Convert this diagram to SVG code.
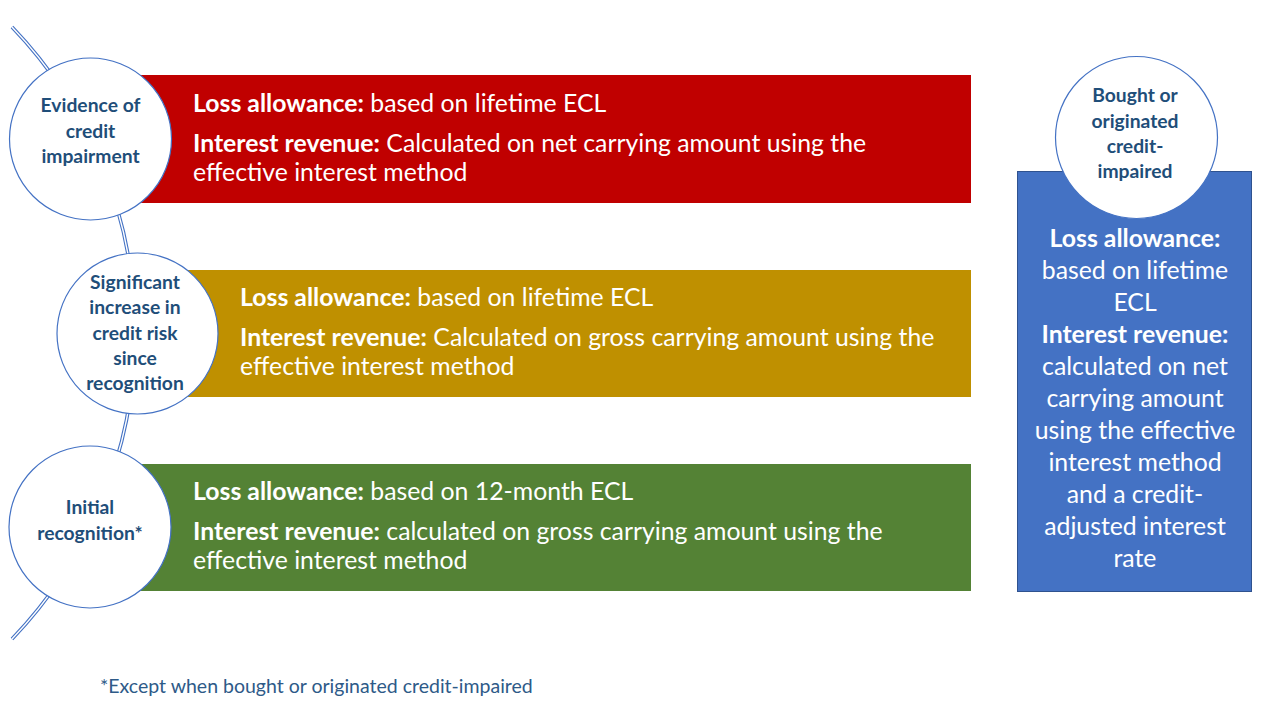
<svg xmlns="http://www.w3.org/2000/svg" width="1280" height="720" viewBox="0 0 1280 720">
<style>
.band{stroke:none}
.circ{fill:#FFFFFF;stroke:#4472C4;stroke-width:1.2}
.ct{font-family:Lato,"Liberation Sans",sans-serif;font-weight:bold;font-size:19.3px;fill:#1F4E79;text-anchor:middle}
.bt{font-family:Lato,"Liberation Sans",sans-serif;font-size:24.8px;fill:#FFFFFF}
.b{font-weight:bold}
.mid{text-anchor:middle}
.foot{font-family:Lato,"Liberation Sans",sans-serif;font-size:19.5px;fill:#2E5A88}
</style>
<rect width="1280" height="720" fill="#FFFFFF"/>
<g id="connectors">
<path d="M12,27 A442,442 0 0 1 12,639" fill="none" stroke="#4472C4" stroke-width="3.6"/>
<path d="M12,27 A442,442 0 0 1 12,639" fill="none" stroke="#FFFFFF" stroke-width="1.4"/>
</g>
<g id="stage3">
<rect class="band" x="90" y="75" width="881" height="128" fill="#C00000"/>
<circle class="circ" cx="90.5" cy="139" r="81"/>
<text class="ct" x="90.5" y="112">Evidence of</text>
<text class="ct" x="90.5" y="138">credit</text>
<text class="ct" x="90.5" y="163">impairment</text>
<text class="bt" x="193" y="112"><tspan class="b">Loss allowance:</tspan> based on lifetime ECL</text>
<text class="bt" x="193" y="152"><tspan class="b">Interest revenue:</tspan> Calculated on net carrying amount using the</text>
<text class="bt" x="193" y="181">effective interest method</text>
</g>
<g id="stage2">
<rect class="band" x="137" y="270" width="834" height="127" fill="#BF9000"/>
<circle class="circ" cx="137.5" cy="333.5" r="80.5"/>
<text class="ct" x="135" y="289">Significant</text>
<text class="ct" x="135" y="314">increase in</text>
<text class="ct" x="135" y="340">credit risk</text>
<text class="ct" x="135" y="365">since</text>
<text class="ct" x="135" y="390">recognition</text>
<text class="bt" x="240" y="306"><tspan class="b">Loss allowance:</tspan> based on lifetime ECL</text>
<text class="bt" x="240" y="346"><tspan class="b">Interest revenue:</tspan> Calculated on gross carrying amount using the</text>
<text class="bt" x="240" y="375">effective interest method</text>
</g>
<g id="stage1">
<rect class="band" x="90" y="464" width="881" height="127" fill="#548235"/>
<circle class="circ" cx="90" cy="527" r="81"/>
<text class="ct" x="90" y="514">Initial</text>
<text class="ct" x="90" y="540">recognition*</text>
<text class="bt" x="193" y="500"><tspan class="b">Loss allowance:</tspan> based on 12-month ECL</text>
<text class="bt" x="193" y="540"><tspan class="b">Interest revenue:</tspan> calculated on gross carrying amount using the</text>
<text class="bt" x="193" y="569">effective interest method</text>
</g>
<g id="poci">
<rect x="1017.5" y="171.5" width="234" height="420" fill="#4472C4" stroke="#2F528F" stroke-width="1"/>
<circle class="circ" cx="1136.5" cy="137.5" r="81"/>
<text class="ct" x="1135" y="102">Bought or</text>
<text class="ct" x="1135" y="128">originated</text>
<text class="ct" x="1135" y="153">credit-</text>
<text class="ct" x="1135" y="178">impaired</text>
<text class="bt mid" x="1135" y="247"><tspan class="b">Loss allowance:</tspan></text>
<text class="bt mid" x="1135" y="279">based on lifetime</text>
<text class="bt mid" x="1135" y="311">ECL</text>
<text class="bt mid" x="1135" y="343"><tspan class="b">Interest revenue:</tspan></text>
<text class="bt mid" x="1135" y="375">calculated on net</text>
<text class="bt mid" x="1135" y="407">carrying amount</text>
<text class="bt mid" x="1135" y="439">using the effective</text>
<text class="bt mid" x="1135" y="471">interest method</text>
<text class="bt mid" x="1135" y="503">and a credit-</text>
<text class="bt mid" x="1135" y="535">adjusted interest</text>
<text class="bt mid" x="1135" y="567">rate</text>
</g>
<g id="footnote">
<text class="foot" x="100" y="693">*Except when bought or originated credit-impaired</text>
</g>
</svg>
